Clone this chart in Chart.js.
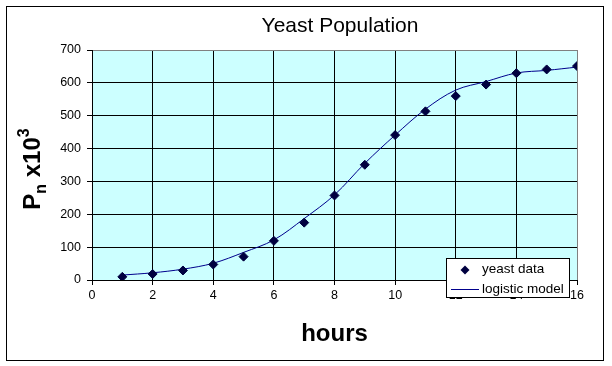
<!DOCTYPE html>
<html>
<head>
<meta charset="utf-8">
<script src="https://cdn.jsdelivr.net/npm/chart.js@4/dist/chart.umd.min.js"></script>
<style>
  html, body { margin: 0; padding: 0; background: #ffffff; }
  #wrap { width: 612px; height: 366px; position: relative; }
</style>
</head>
<body>
<div id="wrap"><canvas id="c" width="612" height="366"></canvas></div>
<script>
// ---- data ----
const hours = [1, 2, 3, 4, 5, 6, 7, 8, 9, 10, 11, 12, 13, 14, 15, 16];
const yeastData = [9.6, 18.3, 29.0, 47.2, 71.1, 119.1, 174.6, 257.3, 350.7, 441.0, 513.3, 559.7, 594.8, 629.4, 640.8, 651.1];
const logisticModel = [15, 22, 33, 51, 84, 122, 187, 259, 355, 441, 520, 578, 604, 630, 638, 648];
const xTicks = [0, 2, 4, 6, 8, 10, 12, 14, 16];
const yTicks = [0, 100, 200, 300, 400, 500, 600, 700];
const chartTitle = 'Yeast Population';
const xTitle = 'hours';
const legendLabels = ['yeast data', 'logistic model'];

const MARK = '#000040';
const LINE = '#00008C';
const FONT = 'Arial, "Liberation Sans", sans-serif';

const toPoints = (xs, ys) => xs.map((x, i) => ({ x: x, y: ys[i] }));

const decor = {
  id: 'decor',
  beforeDraw(chart) {
    const { ctx, chartArea: a } = chart;
    ctx.save();
    ctx.fillStyle = '#ffffff';
    ctx.fillRect(0, 0, chart.width, chart.height);
    ctx.fillStyle = '#CCFFFF';
    ctx.fillRect(a.left, a.top, a.right - a.left, a.bottom - a.top);
    ctx.restore();
  },
  afterDraw(chart) {
    const { ctx } = chart;
    ctx.save();
    // outer border
    ctx.strokeStyle = '#000';
    ctx.lineWidth = 1;
    ctx.strokeRect(6.5, 6.5, 597, 354);

    // title
    ctx.fillStyle = '#000';
    ctx.font = '21px ' + FONT;
    ctx.textAlign = 'center';
    ctx.textBaseline = 'alphabetic';
    ctx.fillText(chartTitle, 340, 32);

    // y axis title: P_n x10^3 (rotated)
    const parts = [
      { t: 'P', f: 'bold 24px ' + FONT, dy: 0 },
      { t: 'n', f: 'bold 16px ' + FONT, dy: 6 },
      { t: ' x10', f: 'bold 24px ' + FONT, dy: 0 },
      { t: '3', f: 'bold 16px ' + FONT, dy: -11 }
    ];
    let total = 0;
    parts.forEach(p => { ctx.font = p.f; p.w = ctx.measureText(p.t).width; total += p.w; });
    ctx.translate(40, 169);
    ctx.rotate(-Math.PI / 2);
    ctx.textAlign = 'left';
    let x = -total / 2;
    parts.forEach(p => {
      ctx.font = p.f;
      ctx.fillText(p.t, x, p.dy);
      x += p.w;
    });
    ctx.setTransform(1, 0, 0, 1, 0, 0);

    // legend
    const L = 446.5, T = 258.5, W = 123, H = 39;
    ctx.fillStyle = '#ffffff';
    ctx.fillRect(L, T, W, H);
    ctx.strokeStyle = '#000';
    ctx.lineWidth = 1;
    ctx.strokeRect(L, T, W, H);
    // diamond marker
    const mx = 465, my = 270;
    ctx.fillStyle = MARK;
    ctx.beginPath();
    ctx.moveTo(mx, my - 4.5); ctx.lineTo(mx + 4.5, my); ctx.lineTo(mx, my + 4.5); ctx.lineTo(mx - 4.5, my);
    ctx.closePath(); ctx.fill();
    // line sample
    ctx.strokeStyle = LINE;
    ctx.beginPath(); ctx.moveTo(451, 289.5); ctx.lineTo(479, 289.5); ctx.stroke();
    ctx.fillStyle = '#000';
    ctx.font = '13.5px ' + FONT;
    ctx.textBaseline = 'middle';
    ctx.fillText(legendLabels[0], 482, 269);
    ctx.fillText(legendLabels[1], 482, 289);
    ctx.restore();
  }
};

new Chart(document.getElementById('c'), {
  type: 'scatter',
  data: {
    datasets: [
      {
        label: legendLabels[0],
        data: toPoints(hours, yeastData),
        showLine: false,
        pointStyle: 'rectRot',
        pointRadius: 4.5,
        pointBackgroundColor: MARK,
        pointBorderColor: MARK,
        borderColor: MARK,
        order: 0
      },
      {
        label: legendLabels[1],
        data: toPoints(hours, logisticModel),
        showLine: true,
        pointRadius: 0,
        borderColor: LINE,
        borderWidth: 1,
        tension: 0.35,
        fill: false,
        order: 1
      }
    ]
  },
  plugins: [decor],
  options: {
    responsive: false,
    animation: false,
    devicePixelRatio: 1,
    layout: { padding: { top: 50, right: 35, left: 0, bottom: 0 } },
    plugins: {
      legend: { display: false },
      title: { display: false },
      tooltip: { enabled: false }
    },
    scales: {
      x: {
        type: 'linear',
        min: 0,
        max: 16,
        afterBuildTicks: (s) => { s.ticks = xTicks.map(v => ({ value: v })); },
        afterFit: (s) => { s.height = 86; },
        ticks: { color: '#000', font: { family: FONT, size: 12.5 }, padding: 3, maxRotation: 0 },
        grid: {
          color: (c) => (c.tick && c.tick.value === 16 ? '#808080' : '#000'),
          tickColor: '#000',
          tickLength: 5,
          lineWidth: 1
        },
        border: { color: '#000', width: 1 },
        title: {
          display: true,
          text: xTitle,
          color: '#000',
          font: { family: FONT, size: 24, weight: 'bold' },
          padding: { top: 0, bottom: 17 }
        }
      },
      y: {
        type: 'linear',
        min: 0,
        max: 700,
        afterBuildTicks: (s) => { s.ticks = yTicks.map(v => ({ value: v })); },
        afterFit: (s) => { s.width = 92; },
        ticks: { color: '#000', font: { family: FONT, size: 12.5 }, padding: 6 },
        grid: {
          color: (c) => (c.tick && c.tick.value === 700 ? '#808080' : '#000'),
          tickColor: '#000',
          tickLength: 5,
          lineWidth: 1
        },
        border: { color: '#000', width: 1 }
      }
    }
  }
});
</script>
</body>
</html>
